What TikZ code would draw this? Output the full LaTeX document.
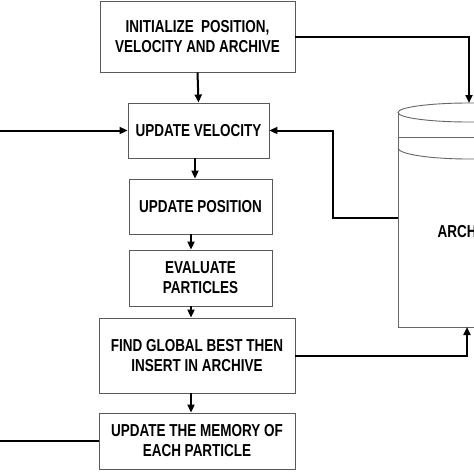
\documentclass[tikz,border=0pt]{standalone}
\usepackage{fontspec}
\newfontfamily\boxfont{Liberation Sans}[FakeStretch=0.78]
\usetikzlibrary{arrows.meta}
\tikzset{
  box/.style={draw=black!65, line width=0.9pt, fill=white, align=center, inner sep=0pt,
    font=\boxfont\bfseries\fontsize{17.3}{20}\selectfont},
  arr/.style={line width=2pt, -{Triangle[length=8pt,width=7pt]}},
  ln/.style={line width=2pt},
  cyl/.style={draw=black!60, line width=0.9pt}
}
\begin{document}
\begin{tikzpicture}[x=1pt,y=-1pt]
\useasboundingbox (0,0) rectangle (474,474);
\clip (0,0) rectangle (474,474);
\fill[white] (0,0) rectangle (474,474);
% boxes
\node[box, minimum width=195pt, minimum height=71pt] (b1) at (197.5,36.5) {INITIALIZE\ \ POSITION,\\VELOCITY AND ARCHIVE};
\node[box, minimum width=141pt, minimum height=55pt] (b2) at (198.5,130.5) {UPDATE VELOCITY};
\node[box, minimum width=143pt, minimum height=55pt] (b3) at (200.5,206.5) {UPDATE POSITION};
\node[box, minimum width=143pt, minimum height=56pt] (b4) at (200.5,278) {EVALUATE\\PARTICLES};
\node[box, minimum width=196pt, minimum height=75pt] (b5) at (197,355.5) {FIND GLOBAL BEST THEN\\INSERT IN ARCHIVE};
\node[box, minimum width=196pt, minimum height=56pt] (b6) at (197,441) {UPDATE THE MEMORY OF\\EACH PARTICLE};
% cylinder (archive)
\draw[cyl] (398,112.5) -- (398,327) -- (560,327);
\draw[cyl] (469,112.5) ellipse [x radius=71, y radius=9.5];
\draw[cyl] (398,137) -- (560,137);
\draw[cyl] (398,148) arc[start angle=180, end angle=360, x radius=71, y radius=-11];
\node[font=\boxfont\bfseries\fontsize{17.3}{20}\selectfont] (arch) at (468,232) {ARCHIVE};
\coordinate (cyltop) at (469,103);
\coordinate (cylbot) at (467,327);
\coordinate (cylleft) at (398,218);
\coordinate (inL) at (0,130.5);
\coordinate (outL) at (0,441);
% vertical arrows
\draw[arr] (b1.south) -- (b2.north);
\draw[arr] ([xshift=-3.5pt]b2.south) -- ([xshift=-5.5pt]b3.north);
\draw[arr] ([xshift=-9.5pt]b3.south) -- ([xshift=-9.5pt]b4.north);
\draw[arr] ([xshift=-9.5pt]b4.south) -- ([xshift=-6pt]b5.north);
\draw[arr] ([xshift=-6pt]b5.south) -- ([xshift=-6pt]b6.north);
% side connectors
\draw[arr] (inL) -- (b2.west);
\draw[ln] (b6.west) -- (outL);
\draw[arr] (b1.east) -| (cyltop);
\draw[arr] (cylleft) -- (333,218) |- (b2.east);
\draw[arr] (b5.east) -| (cylbot);
\end{tikzpicture}
\end{document}
